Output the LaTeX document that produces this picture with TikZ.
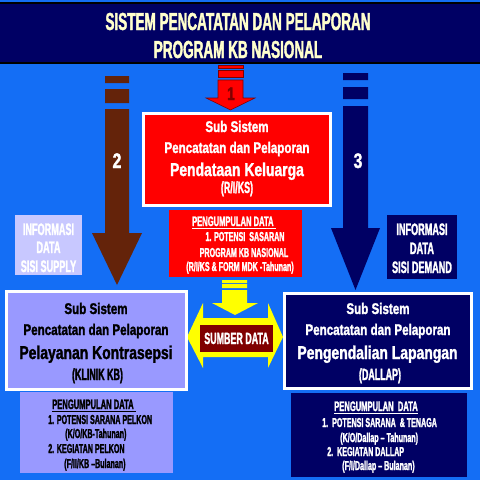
\documentclass[tikz,border=0pt]{standalone}
\usepackage{fontspec}
\usepackage{tikz}
\newfontfamily\capsfont[FakeStretch=0.55, FakeBold=1.6]{Liberation Sans}
\newfontfamily\mixfont[FakeStretch=0.75, FakeBold=1.6]{Liberation Sans}
\definecolor{bgblue}{RGB}{20,110,245}
\definecolor{mnavy}{RGB}{0,0,100}
\definecolor{mbrown}{RGB}{100,35,10}
\definecolor{mred}{RGB}{255,0,0}
\definecolor{mmaroon}{RGB}{128,0,0}
\definecolor{mlav}{RGB}{153,153,255}
\definecolor{mpale}{RGB}{200,200,255}
\definecolor{myellow}{RGB}{255,255,0}
\definecolor{mcream}{RGB}{255,255,204}
\tikzset{
  ttl/.style   = {anchor=base, inner sep=0pt, text=mcream,
                  font=\capsfont\bfseries\fontsize{17.5}{20}\selectfont},
  sub/.style   = {anchor=base, inner sep=0pt,
                  font=\mixfont\bfseries\fontsize{11}{13}\selectfont},
  big/.style   = {anchor=base, inner sep=0pt,
                  font=\mixfont\bfseries\fontsize{13.2}{15}\selectfont},
  capline/.style = {anchor=base, inner sep=0pt,
                  font=\capsfont\bfseries\fontsize{11.5}{13}\selectfont},
  dathd/.style = {anchor=base, inner sep=0pt,
                  font=\capsfont\bfseries\fontsize{9.8}{11}\selectfont},
  dat/.style   = {anchor=base, inner sep=0pt,
                  font=\capsfont\bfseries\fontsize{9.2}{11}\selectfont},
  info/.style  = {anchor=base, inner sep=0pt,
                  font=\capsfont\bfseries\fontsize{11.8}{13}\selectfont},
  num/.style   = {anchor=base, inner sep=0pt,
                  font=\mixfont\bfseries\fontsize{15}{17}\selectfont},
}

\begin{document}
\begin{tikzpicture}[x=0.025cm, y=-0.025cm]
  \useasboundingbox (0,0) rectangle (480,480);
  \fill [bgblue] (0,0) rectangle (480,480);

  % title bar
  \fill [mnavy] (0,3) rectangle (480,64);
  \draw [black, line width=1pt] (0,3) -- (480,3);
  \draw [black, line width=2pt] (0,63) -- (480,63);
  \node [ttl] (ttl1) at (238,30) {SISTEM PENCATATAN DAN PELAPORAN};
  \node [ttl] (ttl2) at (238,58) {PROGRAM KB NASIONAL};

  % arrow 2 (supply side)
  \fill [mbrown] (105,76) rectangle (129,83) (105,89) rectangle (129,103);
  \fill [mbrown] (105,109) -- (129,109) -- (129,233) -- (142,233) -- (117,285)
    -- (92,233) -- (105,233) -- cycle;
  \node [num, text=white] (n2) at (117,168) {2};

  % arrow 3 (demand side)
  \fill [mnavy] (343,73) rectangle (368,80) (343,87) rectangle (368,99);
  \fill [mnavy] (343,106) -- (368,106) -- (368,228) -- (380,228) -- (355.5,290)
    -- (331,228) -- (343,228) -- cycle;
  \node [num, text=white] (n3) at (358,168) {3};

  % arrow 1
  \filldraw [fill=mred, draw=mmaroon, line width=0.4pt]
    (218,65) rectangle (243,68) (218,70) rectangle (243,77);
  \filldraw [fill=mred, draw=mmaroon, line width=0.4pt]
    (218,80) -- (243,80) -- (243,98) -- (255,98) -- (230.5,110)
    -- (206,98) -- (218,98) -- cycle;
  \node [num, text=mmaroon, font=\mixfont\bfseries\fontsize{13}{15}\selectfont]
    (n1) at (231,100) {1};

  % sub sistem pendataan keluarga
  \fill [white] (142,112) rectangle (332,207);
  \fill [mred] (145,115) rectangle (329,204);
  \node [sub, text=white] (pk1) at (237,132) {Sub Sistem};
  \node [sub, text=white] (pk2) at (237,153) {Pencatatan dan Pelaporan};
  \node [big, text=white] (pk3) at (237,176) {Pendataan Keluarga};
  \node [capline, text=white] (pk4) at (237,193) {(R/I/KS)};

  \fill [mred] (169,210) rectangle (302,277);
  \node [dathd, text=white] (pkd1) at (234,226) {\underline{PENGUMPULAN DATA\,}};
  \node [dat, text=white] (pkd2) at (245,241) {1. POTENSI\ \ SASARAN};
  \node [dat, text=white] (pkd3) at (244,257) {PROGRAM KB NASIONAL};
  \node [dat, text=white] (pkd4) at (240,271) {(R/I/KS \& FORM MDK -Tahunan)};

  % informasi data
  \fill [mpale] (15,215) rectangle (82,275);
  \node [info, text=white] (sup1) at (48.5,235) {INFORMASI};
  \node [info, text=white] (sup2) at (48.5,253) {DATA};
  \node [info, text=white] (sup3) at (48.5,272) {SISI SUPPLY};

  \fill [mnavy] (387,215) rectangle (457,279);
  \node [info, text=white] (dem1) at (422,235) {INFORMASI};
  \node [info, text=white] (dem2) at (422,254) {DATA};
  \node [info, text=white] (dem3) at (422,273) {SISI DEMAND};

  % sumber data
  \fill [myellow] (222,280) rectangle (247,283) (222,284) rectangle (247,288);
  \fill [myellow] (222,290) -- (247,290) -- (247,303) -- (258,303) -- (235,315)
    -- (212,303) -- (222,303) -- cycle;
  \fill [myellow] (187,337) -- (203,303) -- (203,318) -- (268,318) -- (268,303)
    -- (283,337) -- (268,368) -- (268,357) -- (203,357) -- (203,368) -- cycle;
  \fill [mmaroon] (200,325) rectangle (273,352);
  \node [capline, text=white] (smb) at (236.5,344) {SUMBER DATA};

  % sub sistem pelayanan kontrasepsi
  \fill [white] (5,290) rectangle (188,391);
  \fill [mlav] (8,293) rectangle (185,388);
  \node [sub] (pl1) at (96,314) {Sub Sistem};
  \node [sub] (pl2) at (96,335) {Pencatatan dan Pelaporan};
  \node [big] (pl3) at (96,359) {Pelayanan Kontrasepsi};
  \node [capline] (pl4) at (97.5,380) {(KLINIK KB)};

  \fill [mlav] (20,392) rectangle (173,473);
  \node [dathd, anchor=base west] (pld1) at (52,409) {\underline{PENGUMPULAN\ DATA\,}};
  \node [dat, anchor=base west] (pld2) at (48,424) {1. POTENSI SARANA PELKON};
  \node [dat, anchor=base west] (pld3) at (65,438) {(K/O/KB-Tahunan)};
  \node [dat, anchor=base west] (pld4) at (48,453) {2. KEGIATAN PELKON};
  \node [dat, anchor=base west] (pld5) at (64,468) {(F/II/KB –Bulanan)};

  % sub sistem pengendalian lapangan
  \fill [white] (283,292) rectangle (473,390);
  \fill [mnavy] (286,295) rectangle (470,387);
  \node [sub, text=white] (pd1) at (378,314) {Sub Sistem};
  \node [sub, text=white] (pd2) at (378,335) {Pencatatan dan Pelaporan};
  \node [big, text=white] (pd3) at (377.5,359) {Pengendalian Lapangan};
  \node [capline, text=white] (pd4) at (380,380) {(DALLAP)};

  \fill [mnavy] (291,393) rectangle (467,477);
  \node [dathd, text=white, anchor=base west] (pdd1) at (334,411) {\underline{PENGUMPULAN\ \ DATA}};
  \node [dat, text=white, anchor=base west] (pdd2) at (322,427) {1.\ \ POTENSI SARANA\ \ \& TENAGA};
  \node [dat, text=white, anchor=base west] (pdd3) at (340,442) {(K/O/Dallap – Tahunan)};
  \node [dat, text=white, anchor=base west] (pdd4) at (327,456) {2.\ \ KEGIATAN DALLAP};
  \node [dat, text=white, anchor=base west] (pdd5) at (342,470) {(F/I/Dallap – Bulanan)};
\end{tikzpicture}
\end{document}
